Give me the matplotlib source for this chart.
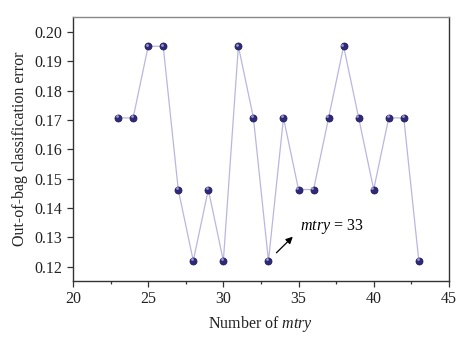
import numpy as np
import matplotlib.pyplot as plt
from matplotlib.ticker import MultipleLocator

plt.rcParams['font.family'] = ['Liberation Serif', 'DejaVu Serif']
plt.rcParams['mathtext.fontset'] = 'custom'
plt.rcParams['mathtext.it'] = 'Liberation Serif:italic'
plt.rcParams['mathtext.rm'] = 'Liberation Serif'

# data
mtry = [23, 24, 25, 26, 27, 28, 29, 30, 31, 32, 33,
        34, 35, 36, 37, 38, 39, 40, 41, 42, 43]
oob_error = [0.1707, 0.1707, 0.1951, 0.1951, 0.1463, 0.1220, 0.1463, 0.1220,
             0.1951, 0.1707, 0.1220, 0.1707, 0.1463, 0.1463, 0.1707, 0.1951,
             0.1707, 0.1463, 0.1707, 0.1707, 0.1220]

fig = plt.figure(figsize=(4.74, 3.45), dpi=100)
ax = fig.add_axes([0.154, 0.186, 0.793, 0.765])

ax.plot(mtry, oob_error, color='#b9b7e0', lw=0.9, zorder=1)
ax.scatter(mtry, oob_error, s=26, color='#2e2a78', edgecolors='#1c1855',
           linewidths=0.5, zorder=2)
ax.scatter(np.array(mtry) - 0.08, np.array(oob_error) + 0.0006, s=4,
           color='#9a97d8', linewidths=0, zorder=3)

ax.annotate('$mtry$ = 33', xy=(34.75, 0.1309), xytext=(35.1, 0.1336),
            fontsize=11.5, va='center', ha='left')
ax.annotate('', xy=(34.75, 0.1309), xytext=(33.4, 0.1241),
            arrowprops=dict(arrowstyle='-|>', color='black', lw=0.9,
                            mutation_scale=10))

ax.set_xlim(20, 45)
ax.set_ylim(0.1152, 0.2051)
ax.xaxis.set_major_locator(MultipleLocator(5))
ax.xaxis.set_minor_locator(MultipleLocator(2.5))
ax.yaxis.set_major_locator(MultipleLocator(0.01))
ax.yaxis.set_major_formatter(plt.FormatStrFormatter('%.2f'))

ax.tick_params(axis='both', which='both', direction='out', labelsize=11.5,
               color='#333333', labelcolor='#222222')
ax.tick_params(which='major', length=4, width=0.9)
ax.tick_params(which='minor', length=2.5, width=0.9)

for side in ['left', 'bottom', 'right']:
    ax.spines[side].set_color('#333333')
    ax.spines[side].set_linewidth(1.0)
ax.spines['top'].set_color('#888888')
ax.spines['top'].set_linewidth(1.0)

ax.set_xlabel('Number of $mtry$', fontsize=11.5, color='#222222', labelpad=5)
ax.set_ylabel('Out-of-bag classification error', fontsize=11.5, color='#222222',
              labelpad=5)

fig.savefig('out.png', dpi=100)
